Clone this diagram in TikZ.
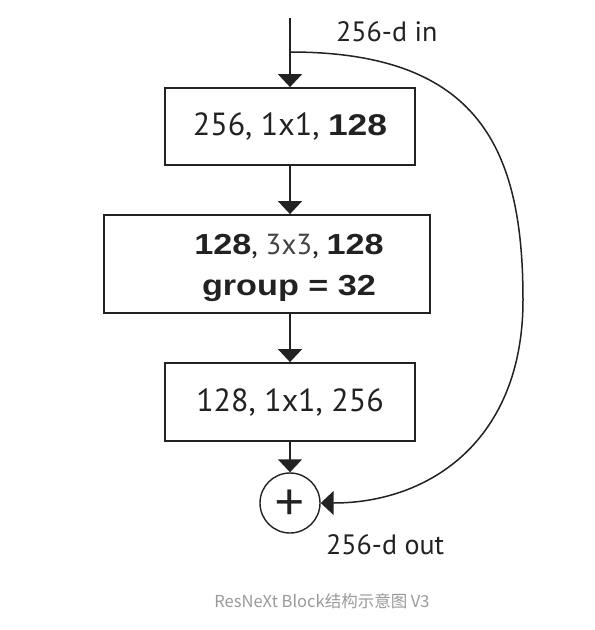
\documentclass[tikz,border=0pt]{standalone}
\usepackage{fontspec}
\setmainfont{PT Sans}
\newfontfamily\boldarial{Liberation Sans Bold}[FakeStretch=1.18]
\newfontfamily\cjk{Noto Sans CJK SC}
\newfontfamily\thinfont{Fira Sans Light}
\usetikzlibrary{arrows.meta}
\definecolor{ink}{HTML}{222222}
\definecolor{capgray}{HTML}{9A9A9A}
\tikzset{
  block/.style={draw=ink, line width=1.8pt, minimum height=77pt, inner sep=0pt, align=center, text=ink},
  conn/.style={draw=ink, line width=1.5pt, -{Triangle[width=24pt,length=13pt]}},
  lbl/.style={text=ink, font=\fontsize{28}{32}\selectfont, inner sep=0pt, anchor=west}
}
\newcommand{\bd}[1]{{\boldarial #1}}
\begin{document}
\begin{tikzpicture}[x=1pt,y=-1pt]
\useasboundingbox (0,0) rectangle (595,630);
\fill[white] (0,0) rectangle (595,630);
\coordinate (top) at (290,18);
\coordinate (split) at (290,52);
\node[block, minimum width=250pt, font=\fontsize{32}{36}\selectfont] (b1) at (290,126.5) {256, 1x1, {\fontsize{30}{36}\selectfont\bd{128}}};
\node[block, minimum width=326pt, minimum height=98pt] (b2) at (267,264) {};
\node[text=ink, align=center, inner sep=0pt, font=\fontsize{29}{41}\selectfont] (b2t) at (289,268) {\bd{128}, {\fontsize{29}{30}\selectfont\color{ink!85}3x3}, \bd{128}\\\bd{group = 32}};
\node[block, minimum width=250pt, minimum height=78pt, font=\fontsize{32}{36}\selectfont] (b3) at (290,402) {128, 1x1, 256};
\node[draw=ink, line width=1.4pt, circle, minimum size=60pt, inner sep=0pt] (sum) at (290,503) {};
\node[text=ink, inner sep=0pt, font=\thinfont\fontsize{70}{70}\selectfont] (plus) at ([yshift=-5pt]sum.center) {+};
\node[lbl] (in) at (336,32) {256-d in};
\node[lbl] (out) at (326,545) {256-d out};
\node[text=capgray, font=\cjk\fontsize{16.5}{19}\selectfont, inner sep=0pt] (cap) at (322,601) {ResNeXt Block结构示意图 V3};
\draw[conn] (top) -- (b1.north);
\draw[conn] (b1.south) -- (b2.north -| b1.south);
\draw[conn] (b2.south -| b1.south) -- (b3.north);
\draw[conn] (b3.south) -- (sum.north);
\draw[conn] (split) .. controls (480,52) and (523,150) .. (523,300) .. controls (523,440) and (430,503) .. (sum.east);
\end{tikzpicture}
\end{document}
